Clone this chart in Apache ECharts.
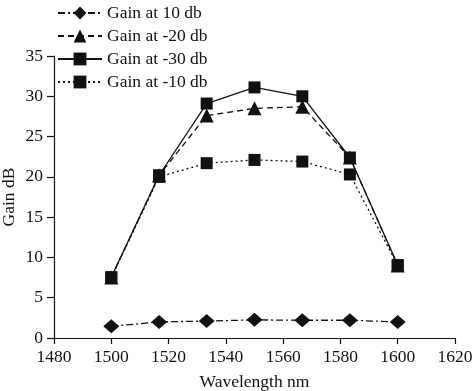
<!DOCTYPE html>
<html>
<head>
<meta charset="utf-8">
<script src="https://cdn.jsdelivr.net/npm/echarts@6/dist/echarts.min.js"></script>
<style>
  html, body { margin: 0; padding: 0; background: #fff; }
  #main { width: 474px; height: 391px; }
</style>
</head>
<body>
<div id="main"></div>
<script>
const wavelengths = [1500, 1516.7, 1533.3, 1550, 1566.7, 1583.3, 1600];
const gain10 = [1.45, 2.0, 2.1, 2.25, 2.2, 2.2, 2.0];
const gainMinus20 = [7.5, 20.2, 27.6, 28.5, 28.7, 22.4, 9.0];
const gainMinus30 = [7.55, 20.2, 29.1, 31.1, 30.0, 22.4, 9.05];
const gainMinus10 = [7.5, 20.0, 21.7, 22.1, 21.9, 20.3, 9.0];
const seriesNames = ['Gain at 10 db', 'Gain at -20 db', 'Gain at -30 db', 'Gain at -10 db'];

const font = 'Liberation Serif, Times New Roman, serif';
const ink = '#111';

function pairs(values) {
  return wavelengths.map((x, i) => [x, values[i]]);
}

function makeSeries(name, values, symbol, symbolSize, dash) {
  return {
    name: name,
    type: 'line',
    data: pairs(values),
    symbol: symbol,
    symbolSize: symbolSize,
    itemStyle: { color: ink },
    lineStyle: { color: ink, width: 1.3, type: dash },
    emphasis: { disabled: true },
    animation: false,
  };
}

const myChart = echarts.init(document.getElementById('main'));
const option = {
  backgroundColor: '#fff',
  textStyle: { fontFamily: font },
  legend: {
    orient: 'vertical',
    left: 57,
    top: 4,
    padding: 0,
    itemWidth: 44,
    itemHeight: 16,
    itemGap: 5,
    textStyle: { fontFamily: font, fontSize: 17.5, color: ink, lineHeight: 17 },
    data: seriesNames,
  },
  grid: { left: 54, right: 19, top: 56, bottom: 53, containLabel: false, outerBoundsMode: 'none' },
  xAxis: {
    type: 'value',
    min: 1480,
    max: 1620,
    interval: 20,
    name: 'Wavelength nm',
    nameLocation: 'middle',
    nameGap: 35,
    nameMoveOverlap: false,
    nameTextStyle: { fontFamily: font, fontSize: 17.5, color: ink },
    axisLine: { lineStyle: { color: ink, width: 1.2 } },
    axisTick: { inside: false, length: 6, lineStyle: { color: ink, width: 1.2 } },
    axisLabel: { fontFamily: font, fontSize: 17.5, color: ink, margin: 10, formatter: (v) => String(v) },
    splitLine: { show: false },
  },
  yAxis: {
    type: 'value',
    min: 0,
    max: 35,
    interval: 5,
    name: 'Gain dB',
    nameLocation: 'middle',
    nameRotate: 90,
    nameGap: 36,
    nameMoveOverlap: false,
    nameTextStyle: { fontFamily: font, fontSize: 17.5, color: ink },
    axisLine: { show: true, lineStyle: { color: ink, width: 1.2 } },
    axisTick: { show: true, inside: false, length: 7, lineStyle: { color: ink, width: 1.2 } },
    axisLabel: { fontFamily: font, fontSize: 17.5, color: ink, margin: 11 },
    splitLine: { show: false },
  },
  series: [
    makeSeries(seriesNames[0], gain10, 'diamond', [16, 14], [7, 3, 2, 3]),
    makeSeries(seriesNames[1], gainMinus20, 'triangle', 14, [6, 4]),
    makeSeries(seriesNames[3], gainMinus10, 'rect', 12, [2, 3]),
    makeSeries(seriesNames[2], gainMinus30, 'rect', 12, 'solid'),
  ],
};

myChart.setOption(option);
</script>
</body>
</html>
